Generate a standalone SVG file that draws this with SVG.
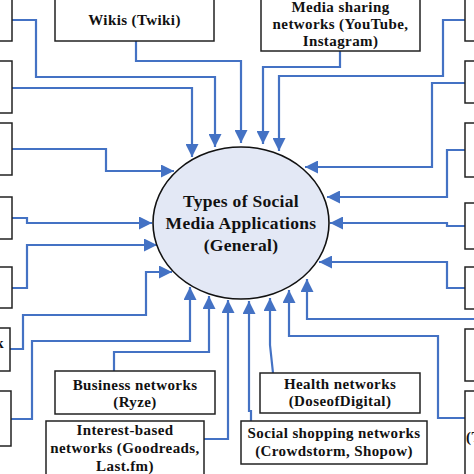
<svg xmlns="http://www.w3.org/2000/svg" width="474" height="474" viewBox="0 0 474 474">
<style>
.box{fill:#fff;stroke:#222;stroke-width:1.5}
.t{font-family:"Liberation Serif","Times New Roman",serif;font-weight:bold;font-size:15px;letter-spacing:0.4px;fill:#111;text-anchor:middle}
.c{font-family:"Liberation Serif","Times New Roman",serif;font-weight:bold;font-size:17.5px;letter-spacing:0.3px;fill:#111;text-anchor:middle}
.ln{fill:none;stroke:#4472C4;stroke-width:2.2;stroke-linejoin:miter}
.ar{marker-end:url(#ah)}
</style>
<defs>
<marker id="ah" markerUnits="userSpaceOnUse" markerWidth="13" markerHeight="13" viewBox="0 0 12 12" refX="12" refY="6" orient="auto">
<path d="M0,0 L12,6 L0,12 z" fill="#4472C4"/>
</marker>
</defs>
<rect width="474" height="474" fill="#fff"/>

<g id="connectors">
<path class="ln ar" d="M12,20 H36 V77 H215 V147"/>
<path class="ln ar" d="M136,41 V61 H241 V143"/>
<path class="ln ar" d="M12,88 H192 V157"/>
<path class="ln ar" d="M340,51 V67 H263 V144"/>
<path class="ln ar" d="M465,20 H443 V76 H279 V151"/>
<path class="ln ar" d="M465,83 H432 V167 H305"/>
<path class="ln ar" d="M465,150 H447 V197 H327"/>
<path class="ln ar" d="M465,226 H447 V223 H330"/>
<path class="ln ar" d="M465,288 H447 V262 H319"/>
<path class="ln ar" d="M12,149 H106 V171 H174"/>
<path class="ln ar" d="M12,218 H27 V223 H152"/>
<path class="ln ar" d="M12,288 H27 V245 H157"/>
<path class="ln ar" d="M10,349 H23 V315 H146 V272 H172"/>
<path class="ln ar" d="M11,419 H32 V341 H190 V287"/>
<path class="ln ar" d="M114,371 V352 H209 V296"/>
<path class="ln ar" d="M204,439 H228 V300"/>
<path class="ln ar" d="M251,421 V411 H249 V301"/>
<path class="ln ar" d="M273,373 L270,345 V298"/>
<path class="ln ar" d="M465,418 H438 V336 H289 V290"/>
<path class="ln ar" d="M474,319 H307 V279"/>
</g>

<g id="center">
<ellipse cx="241" cy="223" rx="88" ry="76" fill="#E3E8F5" stroke="#111" stroke-width="1.6"/>
<text class="c" x="241" y="207">Types of Social</text>
<text class="c" x="241" y="229">Media Applications</text>
<text class="c" x="241" y="251">(General)</text>
</g>

<g id="wikis">
<rect class="box" x="55" y="-20" width="159" height="61"/>
<text class="t" x="134.5" y="25">Wikis (Twiki)</text>
</g>
<g id="media-sharing">
<rect class="box" x="261" y="-20" width="159" height="71"/>
<text class="t" x="340.5" y="12">Media sharing</text>
<text class="t" x="340.5" y="29">networks (YouTube,</text>
<text class="t" x="340.5" y="46">Instagram)</text>
</g>
<g id="business">
<rect class="box" x="55" y="371" width="160" height="43"/>
<text class="t" x="135" y="390">Business networks</text>
<text class="t" x="135" y="407">(Ryze)</text>
</g>
<g id="interest">
<rect class="box" x="46" y="421" width="158" height="70"/>
<text class="t" x="125" y="435">Interest-based</text>
<text class="t" x="125" y="453">networks (Goodreads,</text>
<text class="t" x="125" y="471">Last.fm)</text>
</g>
<g id="health">
<rect class="box" x="260" y="373" width="160" height="40"/>
<text class="t" x="340" y="389">Health networks</text>
<text class="t" x="340" y="406">(DoseofDigital)</text>
</g>
<g id="shopping">
<rect class="box" x="241" y="421" width="186" height="43"/>
<text class="t" x="334" y="438">Social shopping networks</text>
<text class="t" x="334" y="456">(Crowdstorm, Shopow)</text>
</g>

<g id="left-1"><rect class="box" x="-100" y="-20" width="112" height="61"/></g>
<g id="left-2"><rect class="box" x="-100" y="61" width="112" height="52"/></g>
<g id="left-3"><rect class="box" x="-100" y="123" width="112" height="52"/></g>
<g id="left-4"><rect class="box" x="-100" y="197" width="112" height="42"/></g>
<g id="left-5"><rect class="box" x="-100" y="267" width="112" height="41"/></g>
<g id="left-6"><rect class="box" x="-100" y="328" width="110" height="43"/>
<text class="t" x="4" y="348" style="text-anchor:end">k</text></g>
<g id="left-7"><rect class="box" x="-100" y="391" width="111" height="55"/></g>

<g id="right-1"><rect class="box" x="465" y="-20" width="112" height="61"/></g>
<g id="right-2"><rect class="box" x="465" y="61" width="112" height="42"/></g>
<g id="right-3"><rect class="box" x="465" y="123" width="112" height="54"/></g>
<g id="right-4"><rect class="box" x="465" y="203" width="112" height="46"/></g>
<g id="right-5"><rect class="box" x="465" y="267" width="112" height="42"/></g>
<g id="right-6"><rect class="box" x="465" y="329" width="112" height="52"/></g>
<g id="right-7"><rect class="box" x="465" y="391" width="112" height="110"/>
<text class="t" x="466" y="442" style="text-anchor:start">(T</text></g>
</svg>
